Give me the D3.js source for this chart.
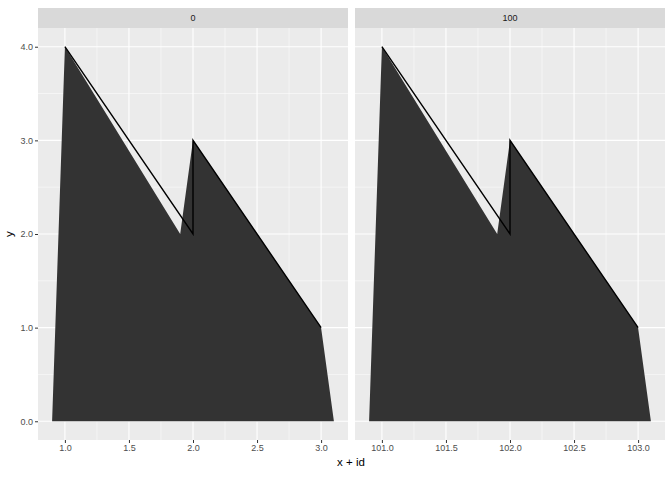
<!DOCTYPE html><html><head><meta charset="utf-8">
<script src="https://cdn.jsdelivr.net/npm/d3@7"></script>
<style>body{margin:0;background:#fff}</style></head><body>
<script>
const panels = [0, 100];
const polyX = [0.9, 1, 1.9, 2, 3, 3.1];
const polyY = [0, 4, 2, 3, 1, 0];
const lineX = [1, 2, 2, 3];
const lineY = [4, 2, 3, 1];
const yTicks = [0, 1, 2, 3, 4];
const xTicksBase = [1.0, 1.5, 2.0, 2.5, 3.0];

const W = 672, H = 480;
const svg = d3.select("body").append("svg").attr("width", W).attr("height", H)
  .style("font-family", "Liberation Sans, Arial, sans-serif");
svg.append("rect").attr("width", W).attr("height", H).attr("fill", "#fff");
const pTop = 28, pBottom = 440, stripH = 20;
const y = d3.scaleLinear().domain([-0.2, 4.2]).range([pBottom, pTop]);
const panelX = [[38, 348], [355, 665]];

panels.forEach((id, i) => {
  const [x0, x1] = panelX[i];
  const x = d3.scaleLinear().domain([0.79 + id, 3.21 + id]).range([x0, x1]);
  const g = svg.append("g");
  g.append("rect").attr("x", x0).attr("y", pTop).attr("width", x1 - x0).attr("height", pBottom - pTop).attr("fill", "#EBEBEB");
  g.append("rect").attr("x", x0).attr("y", pTop - stripH).attr("width", x1 - x0).attr("height", stripH).attr("fill", "#D9D9D9");
  g.append("text").attr("x", (x0 + x1) / 2).attr("y", pTop - stripH / 2).attr("dy", "0.35em")
    .attr("text-anchor", "middle").attr("font-size", 9).attr("fill", "#1A1A1A").text(id);
  [0.5, 1.5, 2.5, 3.5].forEach(v => g.append("line").attr("x1", x0).attr("x2", x1).attr("y1", y(v)).attr("y2", y(v)).attr("stroke", "#fff").attr("stroke-width", 0.5));
  [1.25, 1.75, 2.25, 2.75].forEach(v => g.append("line").attr("y1", pTop).attr("y2", pBottom).attr("x1", x(v + id)).attr("x2", x(v + id)).attr("stroke", "#fff").attr("stroke-width", 0.5));
  yTicks.forEach(v => g.append("line").attr("x1", x0).attr("x2", x1).attr("y1", y(v)).attr("y2", y(v)).attr("stroke", "#fff").attr("stroke-width", 1.1));
  xTicksBase.forEach(v => g.append("line").attr("y1", pTop).attr("y2", pBottom).attr("x1", x(v + id)).attr("x2", x(v + id)).attr("stroke", "#fff").attr("stroke-width", 1.1));
  const pts = polyX.map((v, k) => [x(v + id), y(polyY[k])]);
  g.append("path").attr("d", d3.line()(pts) + "Z").attr("fill", "#333333");
  const lp = lineX.map((v, k) => [x(v + id), y(lineY[k])]);
  g.append("path").attr("d", d3.line()(lp)).attr("fill", "none").attr("stroke", "#000").attr("stroke-width", 1.4);
  const ax = g.append("g").attr("transform", `translate(0,${pBottom})`)
    .call(d3.axisBottom(x).tickValues(xTicksBase.map(v => v + id)).tickFormat(d3.format(".1f")).tickSize(3).tickPadding(2));
  ax.select(".domain").remove();
  ax.selectAll("line").attr("stroke", "#333");
  ax.selectAll("text").attr("font-size", 9).attr("fill", "#4D4D4D").attr("font-family", "Liberation Sans, Arial, sans-serif");
});
const ay = svg.append("g").attr("transform", `translate(38,0)`)
  .call(d3.axisLeft(y).tickValues(yTicks).tickSize(3).tickPadding(2));
ay.select(".domain").remove();
ay.selectAll("line").attr("stroke", "#333");
ay.selectAll("text").attr("font-size", 9).attr("fill", "#4D4D4D").attr("font-family", "Liberation Sans, Arial, sans-serif");
svg.append("text").attr("x", 351).attr("y", 466).attr("text-anchor", "middle").attr("font-size", 11.5).attr("fill", "#000").text("x + id");
svg.append("text").attr("transform", `translate(13,${(pTop + pBottom) / 2}) rotate(-90)`).attr("text-anchor", "middle").attr("font-size", 11.5).attr("fill", "#000").text("y");
</script></body></html>
